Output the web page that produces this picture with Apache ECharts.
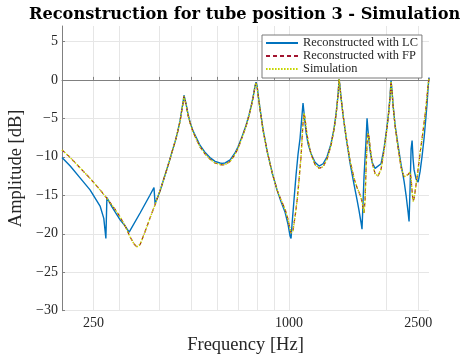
<!DOCTYPE html>
<html><head><meta charset="utf-8">
<script src="https://cdn.jsdelivr.net/npm/echarts@6/dist/echarts.min.js"></script>
<style>html,body{margin:0;padding:0;background:#fff}#c{width:474px;height:355px}</style>
</head><body><div id="c"></div>
<script>
// Frequencies in Hz, amplitudes in dB
const freqLC = [200,212,227,244,262,269,273,275,285,302,313,322,348,373,384,387,401,418,430,439,449,455,462,468,472,475,479,482,489,496,506,521,532,551,571,592,613,622,636,659,682,697,717,738,754,764,775,781,786,792,798,803,815,832,856,887,919,945,973,994,1008,1015,1022,1037,1052,1067,1082,1097,1105,1113,1129,1145,1170,1203,1238,1274,1310,1348,1377,1397,1417,1427,1437,1447,1468,1499,1542,1587,1621,1644,1668,1679,1691,1703,1728,1740,1752,1765,1778,1803,1842,1868,1922,1963,2006,2034,2049,2063,2078,2093,2123,2168,2215,2263,2295,2328,2344,2361,2378,2395,2412,2429,2464,2499,2535,2571,2608,2645,2664,2683,2700];
const ampLC = [-10.1,-11.2,-12.7,-14.3,-16.4,-18.0,-20.6,-15.3,-16.5,-18.2,-19.0,-19.8,-17.3,-15.0,-14.0,-16.1,-14.4,-12.0,-10.3,-9.0,-7.6,-6.6,-5.3,-3.8,-2.9,-2.0,-2.2,-3.1,-4.5,-5.5,-6.6,-7.7,-8.5,-9.4,-10.1,-10.6,-10.8,-10.85,-10.8,-10.4,-9.5,-8.7,-7.4,-5.9,-4.5,-3.5,-2.3,-1.5,-0.8,-0.3,-0.8,-1.8,-3.8,-6.4,-9.2,-12.0,-14.3,-15.8,-17.2,-18.8,-20.3,-20.6,-18.8,-15.5,-12.3,-9.6,-7.6,-4.6,-3.0,-4.3,-6.8,-8.3,-9.6,-10.7,-11.2,-10.9,-10.0,-8.3,-6.3,-4.4,-1.9,0.1,-1.0,-2.3,-4.6,-7.4,-10.8,-13.6,-15.6,-17.0,-18.6,-19.4,-16.0,-12.6,-7.8,-5.0,-6.6,-8.0,-9.2,-10.7,-11.5,-11.7,-10.9,-8.9,-6.0,-3.7,-2.1,-0.1,-1.5,-3.3,-5.9,-8.5,-11.0,-13.2,-15.0,-17.2,-18.4,-14.0,-9.0,-7.9,-10.3,-11.7,-12.9,-13.3,-11.9,-9.9,-7.5,-4.6,-3.0,-1.0,0.3];

const freqSim = [200,212,227,244,262,275,291,302,313,324,333,340,348,360,373,387,401,418,430,439,449,455,462,468,472,475,479,482,489,496,506,521,532,551,571,592,613,622,636,659,682,697,717,738,754,764,775,781,786,792,798,803,815,832,856,887,919,945,973,994,1008,1015,1022,1029,1044,1059,1074,1090,1097,1105,1113,1121,1129,1145,1170,1203,1238,1274,1310,1348,1377,1397,1417,1427,1437,1447,1468,1499,1542,1587,1621,1644,1668,1679,1691,1703,1716,1728,1740,1752,1765,1778,1803,1842,1881,1922,1963,2006,2034,2049,2063,2078,2093,2123,2168,2215,2263,2295,2328,2361,2378,2395,2412,2429,2464,2499,2535,2571,2608,2645,2664,2683,2700];
const ampSim = [-9.1,-10.1,-11.4,-12.8,-14.3,-15.4,-16.8,-17.8,-19.0,-20.4,-21.3,-21.7,-21.4,-19.8,-18.0,-16.2,-14.4,-12.0,-10.3,-9.0,-7.6,-6.6,-5.4,-3.9,-3.0,-2.1,-2.3,-3.2,-4.6,-5.6,-6.7,-7.9,-8.7,-9.6,-10.3,-10.8,-11.0,-11.05,-11.0,-10.6,-9.7,-8.9,-7.5,-6.0,-4.6,-3.6,-2.4,-1.6,-0.9,-0.4,-0.9,-1.9,-3.9,-6.5,-9.2,-12.0,-14.3,-15.6,-16.8,-18.2,-19.4,-19.9,-20.1,-19.6,-17.8,-15.8,-13.0,-9.9,-7.8,-5.6,-4.3,-5.0,-6.2,-7.9,-9.7,-11.0,-11.5,-11.3,-10.3,-8.5,-6.4,-4.5,-2.0,0.1,-1.0,-2.3,-4.6,-7.3,-10.5,-12.8,-14.0,-14.6,-15.3,-15.8,-16.6,-17.3,-15.5,-11.5,-8.3,-6.9,-7.4,-8.8,-10.7,-12.2,-12.5,-11.6,-9.2,-6.2,-3.8,-2.2,-0.2,-1.6,-3.4,-6.0,-8.8,-11.4,-12.6,-12.7,-12.3,-12.0,-12.8,-14.5,-15.8,-15.4,-13.6,-11.6,-9.5,-7.6,-5.6,-3.4,-2.0,-0.6,0.2];
const ampFP = [-9.1,-10.1,-11.4,-12.8,-14.3,-15.4,-16.8,-17.8,-19.0,-20.4,-21.3,-21.7,-21.4,-19.8,-18.0,-16.2,-14.4,-12.0,-10.3,-9.0,-7.6,-6.6,-5.4,-3.9,-3.0,-2.1,-2.3,-3.2,-4.6,-5.6,-6.7,-7.9,-8.7,-9.6,-10.3,-10.8,-11.0,-11.05,-11.0,-10.6,-9.7,-8.9,-7.5,-6.0,-4.6,-3.6,-2.4,-1.6,-0.9,-0.4,-0.9,-1.9,-3.9,-6.5,-9.2,-12.0,-14.3,-15.6,-16.8,-18.2,-19.4,-19.9,-20.1,-19.6,-17.8,-15.8,-13.0,-9.9,-7.8,-5.6,-4.3,-5.0,-6.2,-7.9,-9.7,-11.0,-11.5,-11.3,-10.3,-8.5,-6.4,-4.5,-2.0,0.1,-1.0,-2.3,-4.6,-7.3,-10.5,-12.8,-14.0,-14.6,-15.3,-15.8,-16.6,-17.3,-15.5,-11.5,-8.3,-6.9,-7.4,-8.8,-10.7,-12.2,-12.5,-11.6,-9.2,-6.2,-3.8,-2.2,-0.2,-1.6,-3.4,-6.0,-8.8,-11.4,-12.6,-12.7,-12.3,-12.0,-12.8,-14.5,-15.8,-15.4,-13.6,-11.6,-9.5,-7.6,-5.6,-3.4,-2.0,-0.6,0.2];

const seriesNames = ['Reconstructed with LC', 'Reconstructed with FP', 'Simulation'];
const xTickLabels = [250, 1000, 2500];
const xGridFreqs = [200, 250, 300, 400, 500, 600, 700, 800, 900, 1000, 2000, 2500];
const yTicks = [-30, -25, -20, -15, -10, -5, 0, 5];
const xRange = [200, 2700];
const yRange = [-30, 7];

const lg = v => Math.log10(v);
const pairs = (fs, as) => fs.map((f, i) => [lg(f), as[i]]);
const serif = 'Liberation Serif';
const axisGray = '#808080';
const gridGray = '#e6e6e6';
const simColor = '#C6D600';

const chart = echarts.init(document.getElementById('c'), null, {renderer: 'canvas'});
chart.setOption({
  animation: false,
  backgroundColor: '#fff',
  title: {
    text: 'Reconstruction for tube position 3 - Simulation',
    left: 24, top: 2,
    textStyle: {fontFamily: 'DejaVu Serif', fontWeight: 'bold', fontSize: 16.2, color: '#000'}
  },
  grid: {left: 62, right: 45, top: 26, bottom: 44.3, containLabel: false, outerBoundsMode: 'none'},
  legend: {
    orient: 'vertical', left: 262, top: 35,
    itemWidth: 32, itemHeight: 10, itemGap: 1,
    padding: [2, 4, 3, 3],
    backgroundColor: '#fff', borderColor: '#7a7a7a', borderWidth: 1,
    itemStyle: {color: 'rgba(0,0,0,0)', borderWidth: 0, opacity: 0},
    textStyle: {fontFamily: serif, fontSize: 12.4, color: '#262626'},
    data: seriesNames
  },
  xAxis: {
    type: 'value', min: lg(xRange[0]), max: lg(xRange[1]),
    axisLine: {show: true, lineStyle: {color: axisGray, width: 1}},
    axisTick: {show: true, inside: true, length: 3, customValues: xGridFreqs.map(lg), lineStyle: {color: axisGray}},
    axisLabel: {
      customValues: xTickLabels.map(lg),
      formatter: v => String(Math.round(Math.pow(10, v))),
      fontFamily: serif, fontSize: 14, color: '#262626', margin: 6
    },
    splitLine: {show: true, lineStyle: {color: gridGray, width: 1}},
    name: 'Frequency [Hz]', nameLocation: 'middle', nameGap: 22,
    nameTextStyle: {fontFamily: serif, fontSize: 18.5, color: '#262626'}
  },
  yAxis: {
    type: 'value', min: yRange[0], max: yRange[1],
    axisLine: {show: true, lineStyle: {color: axisGray, width: 1}},
    axisTick: {show: true, inside: true, length: 3, customValues: yTicks, lineStyle: {color: axisGray}},
    axisLabel: {
      customValues: yTicks,
      formatter: v => String(v).replace('-', '\u2212'),
      fontFamily: serif, fontSize: 14, color: '#262626', margin: 4
    },
    splitLine: {show: true, lineStyle: {color: gridGray, width: 1}},
    name: 'Amplitude [dB]', nameLocation: 'middle', nameGap: 30, nameRotate: 90,
    nameTextStyle: {fontFamily: serif, fontSize: 18.5, color: '#262626'}
  },
  series: [
    {name: seriesNames[0], type: 'line', data: pairs(freqLC, ampLC), symbol: 'none', clip: true,
     lineStyle: {color: '#0072BD', width: 1.4}, itemStyle: {color: '#0072BD'}},
    {name: seriesNames[1], type: 'line', data: pairs(freqSim, ampFP), symbol: 'none', clip: true,
     lineStyle: {color: '#A2142F', width: 1.2, type: [4, 3]}, itemStyle: {color: '#A2142F'}},
    {name: seriesNames[2], type: 'line', data: pairs(freqSim, ampSim), symbol: 'none', clip: true,
     lineStyle: {color: simColor, width: 1.4, type: [1.6, 1.4]}, itemStyle: {color: simColor}}
  ]
});
</script></body></html>
